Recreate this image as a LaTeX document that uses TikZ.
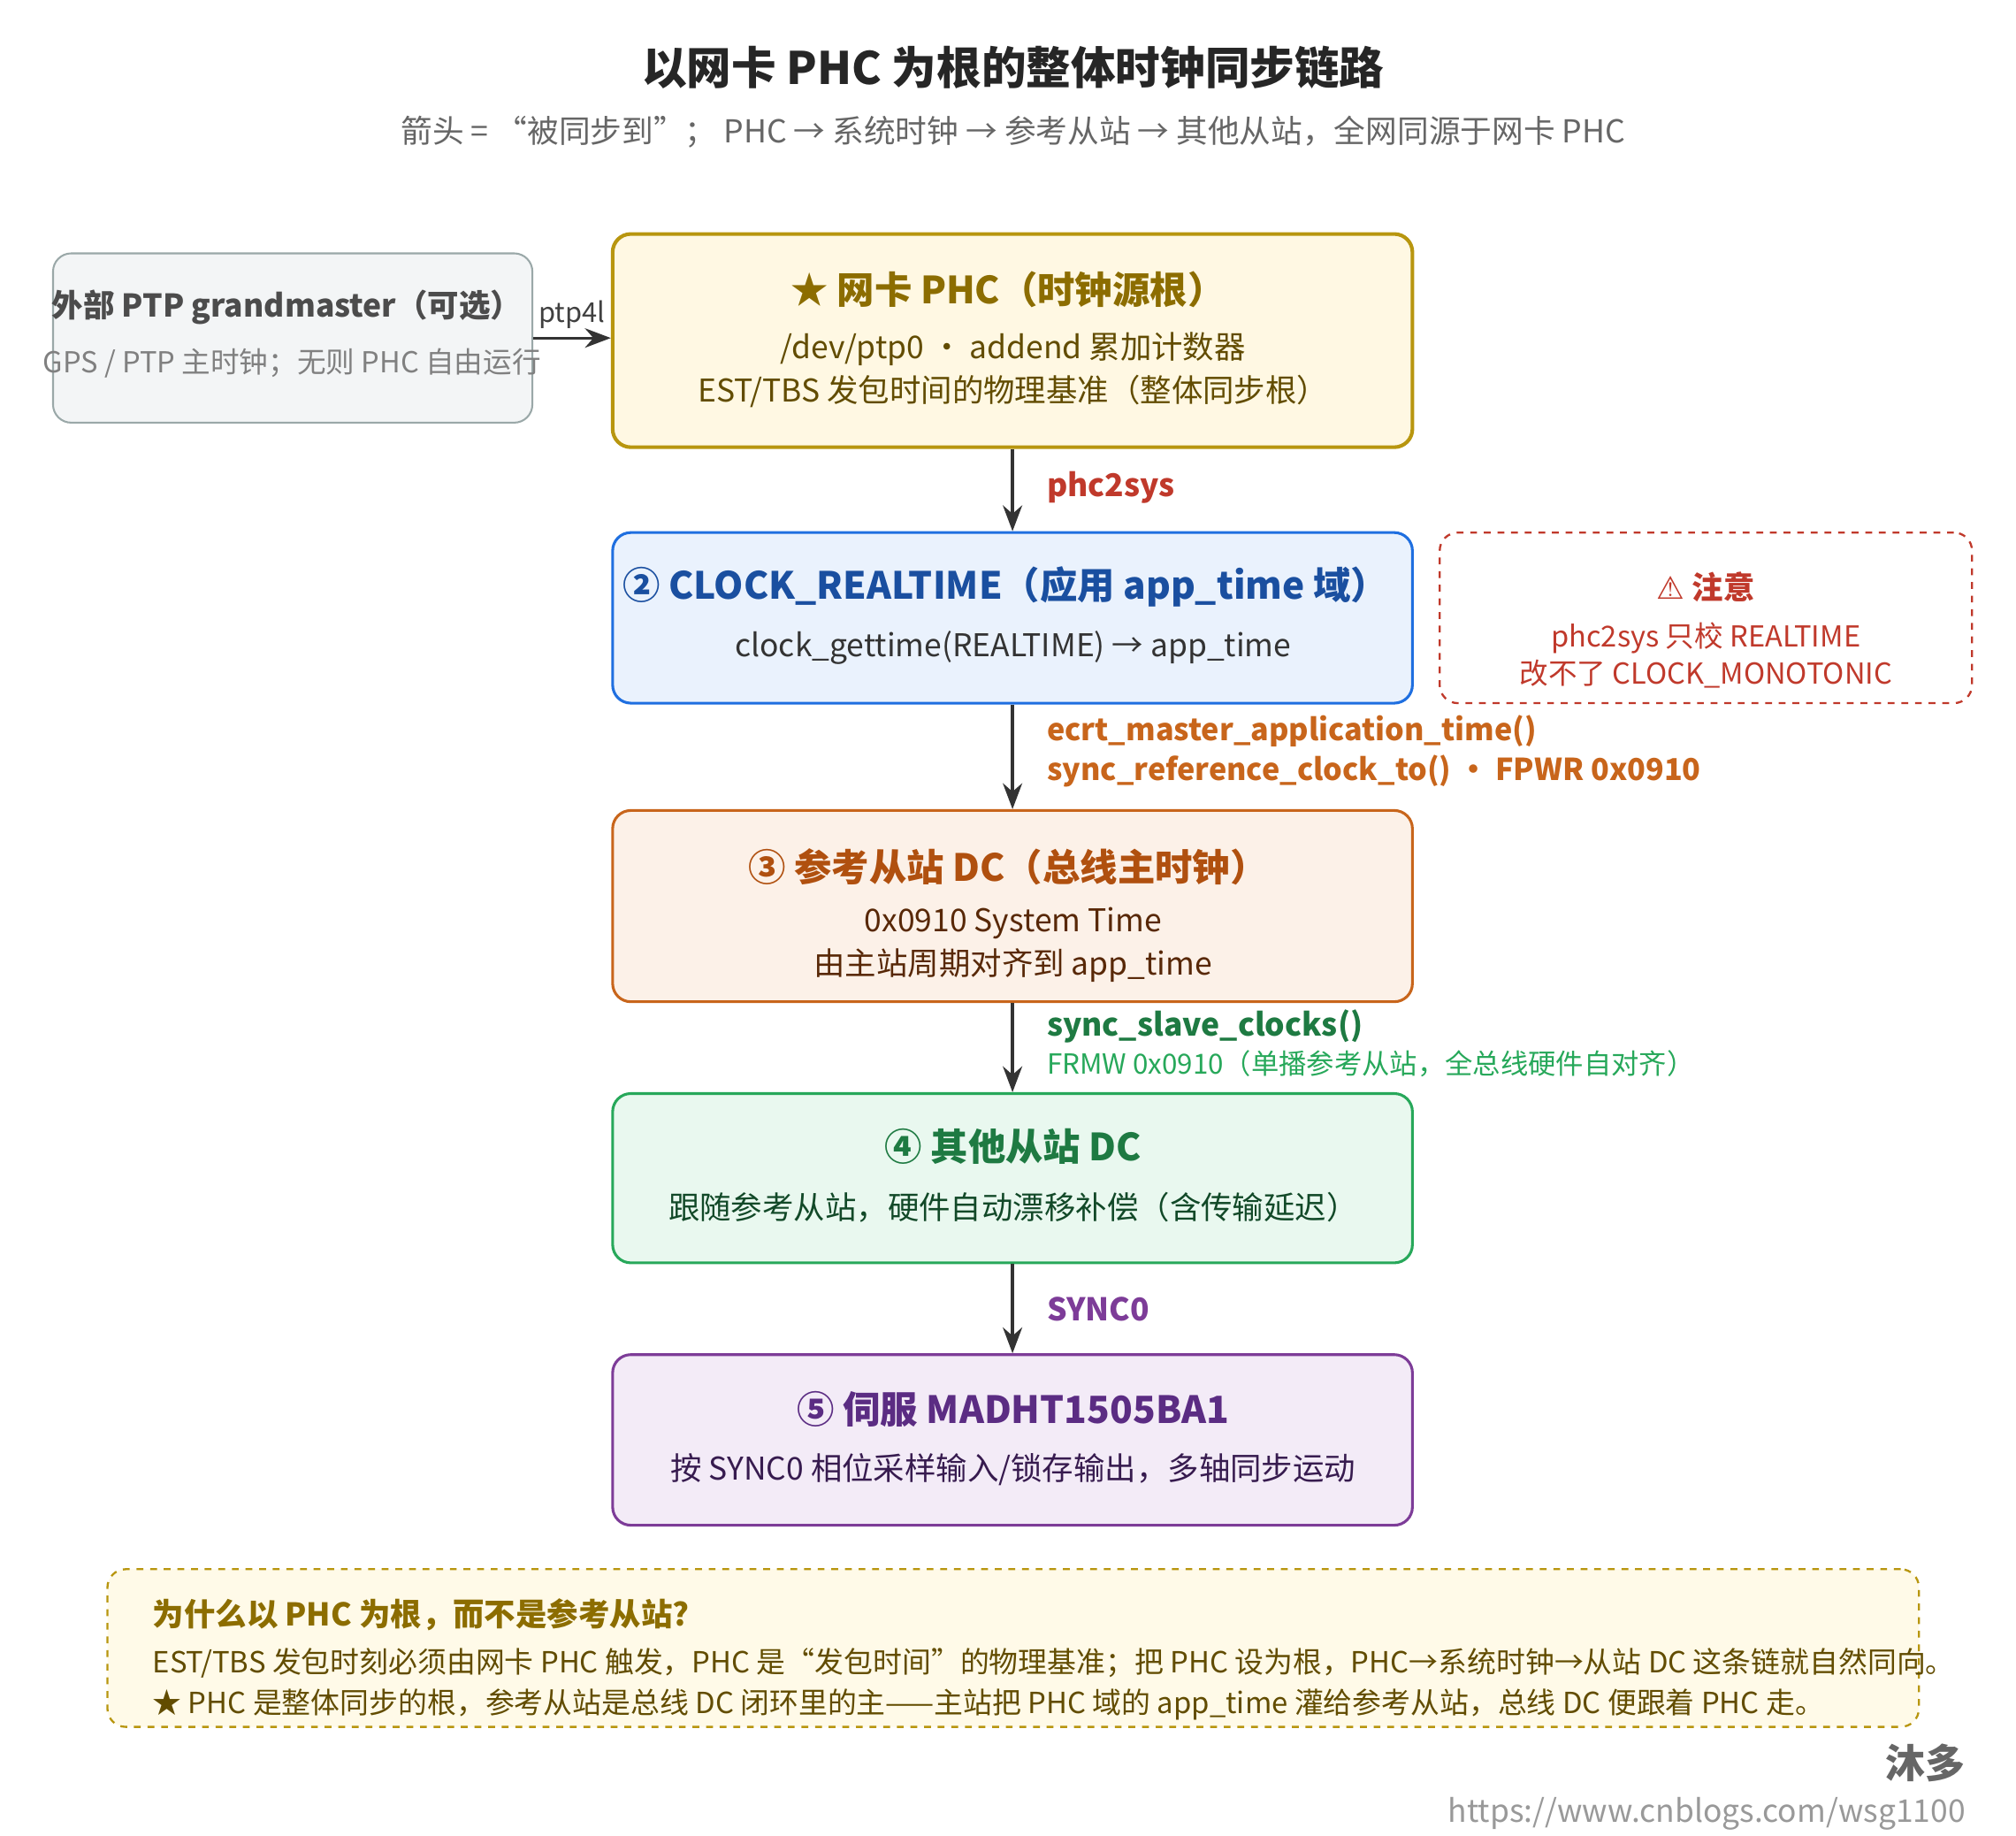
\documentclass[tikz,border=0pt]{standalone}
\usepackage{fontspec}
\setmainfont{Noto Sans CJK SC}
\newfontfamily\symfont{DejaVu Sans}
\usepackage{tikz}
\usetikzlibrary{arrows.meta}
\usetikzlibrary{positioning}
\definecolor{goldtxt}{HTML}{8C6D00}
\definecolor{golddraw}{HTML}{B8960F}
\definecolor{goldfill}{HTML}{FFF8E3}
\definecolor{bluetxt}{HTML}{1A4FA0}
\definecolor{bluedraw}{HTML}{1F6FE0}
\definecolor{bluefill}{HTML}{EAF2FD}
\definecolor{orangetxt}{HTML}{B0500F}
\definecolor{orangedraw}{HTML}{C8651B}
\definecolor{orangefill}{HTML}{FCF1E8}
\definecolor{greentxt}{HTML}{1E7A42}
\definecolor{greendraw}{HTML}{27A85A}
\definecolor{greenfill}{HTML}{E9F8EF}
\definecolor{purpletxt}{HTML}{5B2C83}
\definecolor{purpledraw}{HTML}{7D3C98}
\definecolor{purplefill}{HTML}{F3EBF7}
\definecolor{redtxt}{HTML}{C0392B}
\definecolor{graytxt}{HTML}{666666}
\definecolor{graydraw}{HTML}{9AA8A8}
\definecolor{grayfill}{HTML}{F3F5F6}
\definecolor{notefill}{HTML}{FFFAE8}
\tikzset{
    box/.style={
        draw,
        rounded corners=8pt,
        line width=1.2pt,
        minimum width=12.38cm,
        inner sep=0pt
    },
    boxtitle/.style={font=\fontsize{16.5}{20}\selectfont\bfseries},
    boxtext/.style={font=\fontsize{13.8}{19}\selectfont, align=center},
    arr/.style={
        draw=black!80,
        line width=1.3pt,
        -{Stealth[length=4mm, width=3mm]}
    },
    arrlabel/.style={anchor=west, font=\fontsize{13.8}{17}\selectfont\bfseries, align=left}
}

\begin{document}
\begin{tikzpicture}[x=0.02cm, y=-0.02cm]
  \useasboundingbox[fill=white] (0,0) rectangle (1560,1420);

  % Title
  \node[font=\fontsize{19.7}{23}\selectfont\bfseries, text=black!85] (title) at (784,52) {以网卡 PHC 为根的整体时钟同步链路};
  \node[font=\fontsize{13.9}{16}\selectfont, text=graytxt] (subtitle) at (784,102) {箭头 = “被同步到”； PHC → 系统时钟 → 参考从站 → 其他从站，全网同源于网卡 PHC};

  % External grandmaster
  \node[box, draw=graydraw, fill=grayfill, minimum width=7.42cm, minimum height=2.62cm, line width=0.8pt] (ext) at (226.5,261.5) {};
  \node[font=\fontsize{13.8}{16}\selectfont\bfseries, text=black!70] at (222,238) {外部 PTP grandmaster（可选）};
  \node[font=\fontsize{12.7}{15}\selectfont, text=gray] at (226,281) {GPS / PTP 主时钟；无则 PHC 自由运行};

  % PHC
  \node[box, draw=golddraw, fill=goldfill, minimum height=3.3cm, line width=1.6pt] (phc) at (783.5,263.5) {};
  \node[boxtitle, text=goldtxt] at (780,224) {★ 网卡 PHC（时钟源根）};
  \node[boxtext, text=goldtxt!70!black] at (784,286) {/dev/ptp0 · addend 累加计数器\\EST/TBS 发包时间的物理基准（整体同步根）};

  % CLOCK_REALTIME
  \node[box, draw=bluedraw, fill=bluefill, minimum height=2.64cm] (rt) at (783.5,478) {};
  \node[boxtitle, text=bluetxt] at (778,454) {② CLOCK\_REALTIME（应用 app\_time 域）};
  \node[boxtext, text=black!80] at (784,501) {clock\_gettime(REALTIME) → app\_time};

  % Note
  \node[box, draw=redtxt, dashed, minimum width=8.24cm, minimum height=2.64cm, line width=0.9pt] (note) at (1320,478) {};
  \node[font=\fontsize{13.8}{16}\selectfont\bfseries, text=redtxt] at (1320,454) {{\symfont ⚠} 注意};
  \node[boxtext, font=\fontsize{12.7}{16.5}\selectfont, text=redtxt] at (1320,507) {phc2sys 只校 REALTIME\\改不了 CLOCK\_MONOTONIC};

  % Reference slave
  \node[box, draw=orangedraw, fill=orangefill, minimum height=2.96cm] (ref) at (783.5,701) {};
  \node[boxtitle, text=orangetxt] at (780,671) {③ 参考从站 DC（总线主时钟）};
  \node[boxtext, text=orangetxt!50!black] at (784,731) {0x0910 System Time\\由主站周期对齐到 app\_time};

  % Other slaves
  \node[box, draw=greendraw, fill=greenfill, minimum height=2.62cm] (other) at (783.5,911.5) {};
  \node[boxtitle, text=greentxt] at (784,887) {④ 其他从站 DC};
  \node[boxtext, text=greentxt!60!black] at (784,934) {跟随参考从站，硬件自动漂移补偿（含传输延迟）};

  % Servo
  \node[box, draw=purpledraw, fill=purplefill, minimum height=2.64cm] (servo) at (783.5,1114) {};
  \node[boxtitle, text=purpletxt] at (784,1090) {⑤ 伺服 MADHT1505BA1};
  \node[boxtext, text=purpletxt!60!black] at (784,1137) {按 SYNC0 相位采样输入/锁存输出，多轴同步运动};

  % Connectors
  \draw[arr] (ext.east) -- (phc.west |- ext.east) node[pos=0.5, above, font=\fontsize{12}{14}\selectfont, text=black!75] {ptp4l};
  \draw[arr] (phc) -- (rt);
  \draw[arr] (rt) -- (ref);
  \draw[arr] (ref) -- (other);
  \draw[arr] (other) -- (servo);

  % Connector labels
  \node[arrlabel, text=redtxt] at (804,377) {phc2sys};
  \node[arrlabel, text=orangedraw, align=left, font=\fontsize{13.3}{17.5}\selectfont\bfseries] at (804,581) {ecrt\_master\_application\_time()\\sync\_reference\_clock\_to() · FPWR 0x0910};
  \node[arrlabel, text=greentxt] at (804,794) {sync\_slave\_clocks()};
  \node[arrlabel, text=greendraw, font=\fontsize{12.2}{14}\selectfont] at (804,823) {FRMW 0x0910（单播参考从站，全总线硬件自对齐）};
  \node[arrlabel, text=purpledraw] at (804,1013) {SYNC0};

  % Bottom explanation
  \node[box, draw=golddraw, dashed, fill=notefill, minimum width=28.04cm, minimum height=2.44cm, line width=0.9pt] (why) at (784,1275) {};
  \node[anchor=west, font=\fontsize{13.8}{16}\selectfont\bfseries, text=goldtxt] at (112,1249) {为什么以 PHC 为根，而不是参考从站?};
  \node[anchor=west, align=left, font=\fontsize{12.8}{18}\selectfont, text=goldtxt!70!black] at (112,1303) {EST/TBS 发包时刻必须由网卡 PHC 触发，PHC 是“发包时间”的物理基准；把 PHC 设为根，PHC→系统时钟→从站 DC 这条链就自然同向。\\★ PHC 是整体同步的根，参考从站是总线 DC 闭环里的主——主站把 PHC 域的 app\_time 灌给参考从站，总线 DC 便跟着 PHC 走。};

  % Watermark
  \node[anchor=east, font=\fontsize{17.5}{20}\selectfont\bfseries, text=black!60] at (1527,1364) {沐多};
  \node[anchor=east, font=\fontsize{13.8}{16}\selectfont, text=gray!80] at (1527,1403) {https://www.cnblogs.com/wsg1100};
\end{tikzpicture}
\end{document}
